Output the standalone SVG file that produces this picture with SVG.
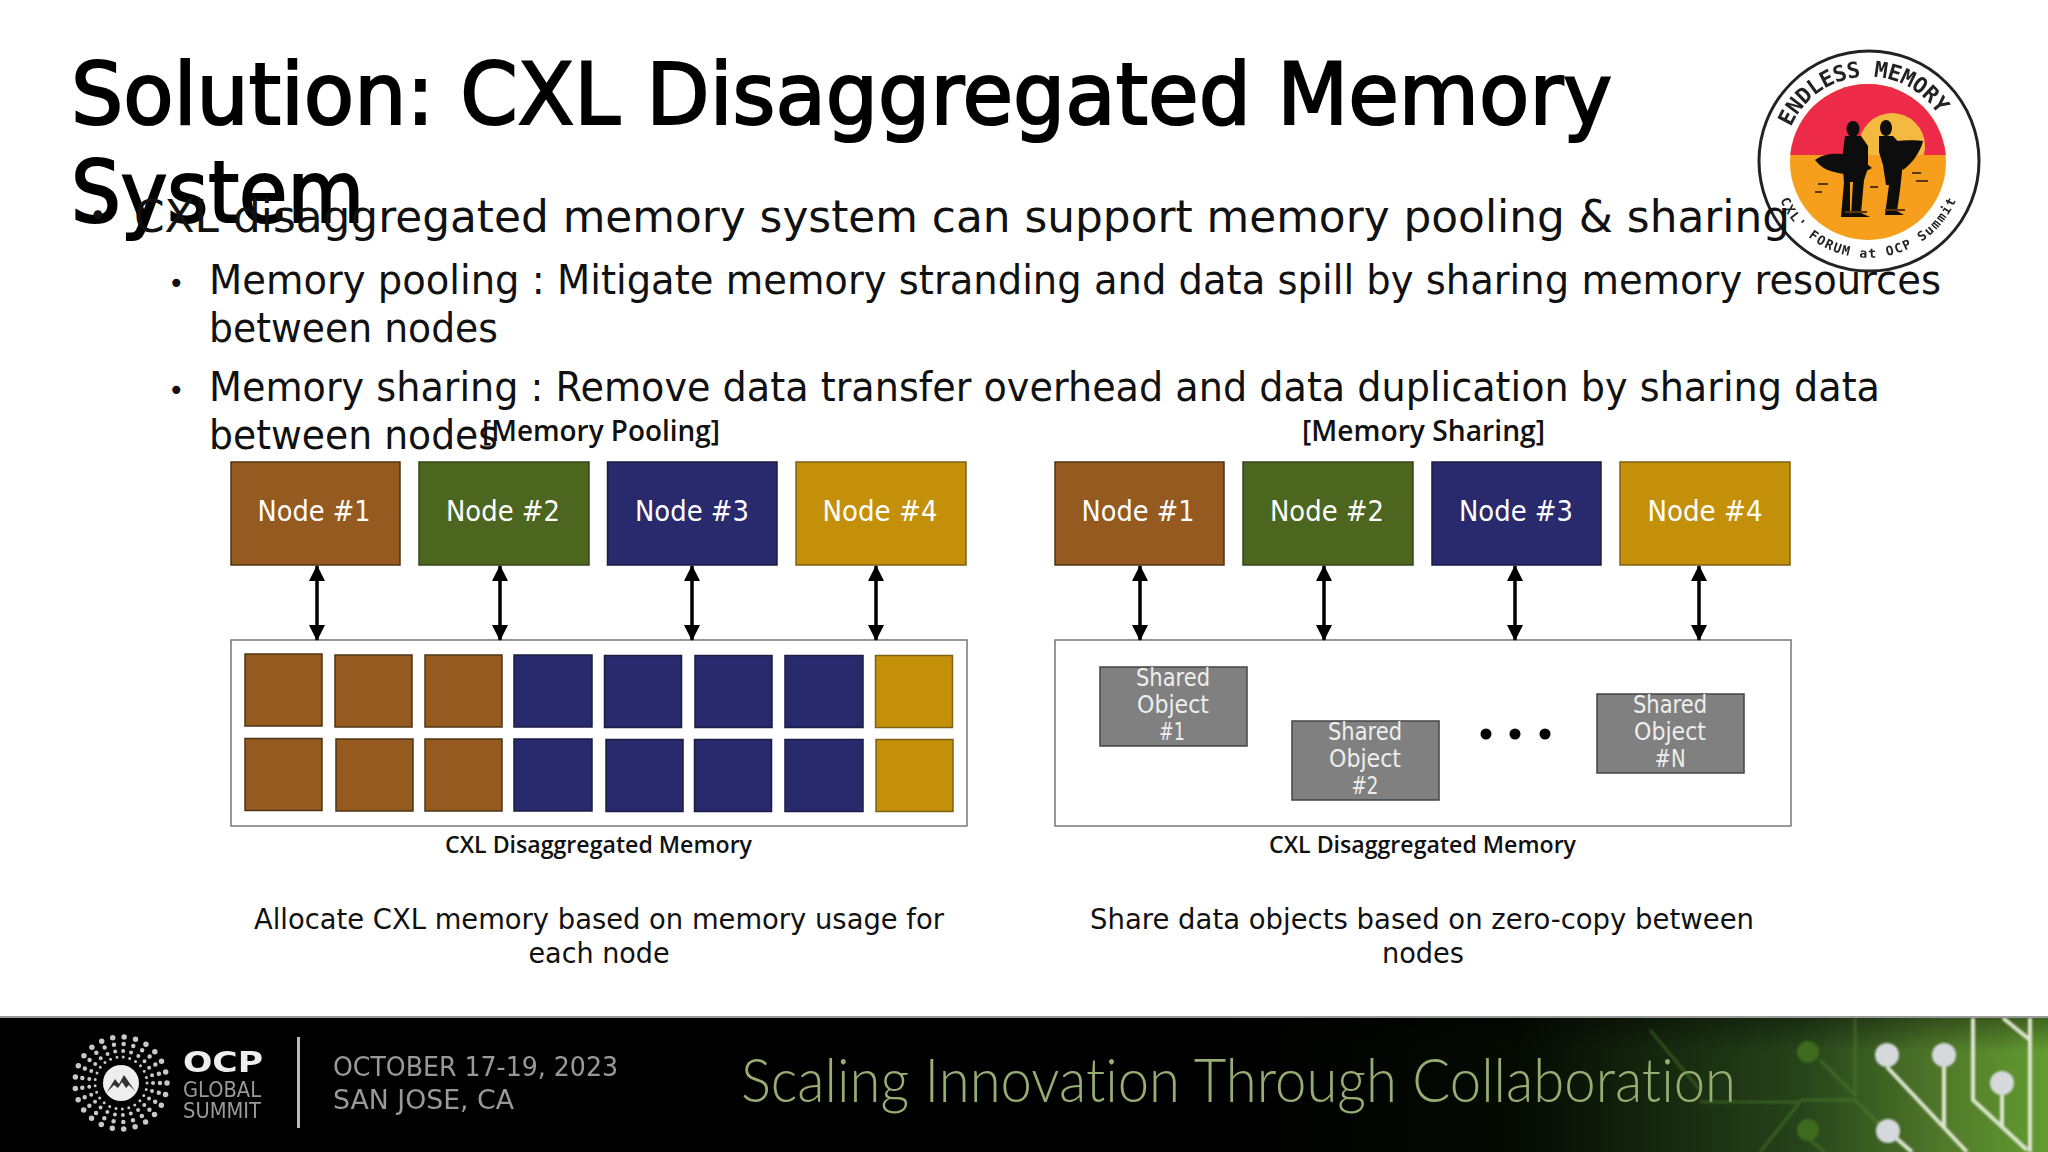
<svg xmlns="http://www.w3.org/2000/svg" width="2048" height="1152" viewBox="0 0 2048 1152">
<defs>
<style>
text{font-family:"DejaVu Sans","Liberation Sans",sans-serif}
.t{font-size:86px;fill:#000;stroke:#000;stroke-width:2.2}
.b1{font-size:45px;fill:#111}
.b2{font-size:41px;fill:#111}
.bu{font-size:28px;fill:#111}
.lab{font-size:29px;fill:#111;font-weight:600;font-family:"Open Sans","DejaVu Sans",sans-serif}
.cap{font-size:29px;fill:#111;text-anchor:middle}
.nt{font-size:29px;fill:#fff;text-anchor:middle}
.st{font-size:24px;fill:#eee;text-anchor:middle}
.br{fill:#945a1f;stroke:#4d3416;stroke-width:1.5}
.gr{fill:#4c661f;stroke:#33441a;stroke-width:1.5}
.bl{fill:#29296d;stroke:#1d1d44;stroke-width:1.5}
.go{fill:#c4900a;stroke:#7d6214;stroke-width:1.5}
.box{fill:#fff;stroke:#777;stroke-width:1.5}
.so{fill:#808080;stroke:#444;stroke-width:1.5}
.a{stroke:#000;stroke-width:3.5;fill:none;marker-start:url(#h);marker-end:url(#h)}
</style>
<marker id="h" viewBox="0 0 16 16" refX="15" refY="8" markerWidth="16" markerHeight="16" markerUnits="userSpaceOnUse" orient="auto-start-reverse"><path d="M0 0L16 8L0 16Z" fill="#000"/></marker>
<linearGradient id="fg" x1="0" x2="1" y1="0" y2="0"><stop offset="0" stop-color="#000"/><stop offset=".6" stop-color="#000"/><stop offset=".74" stop-color="#050a03"/><stop offset=".88" stop-color="#26441a"/><stop offset=".95" stop-color="#517a2a"/><stop offset="1" stop-color="#639c30"/></linearGradient>
<linearGradient id="fade" x1="0" x2="0" y1="0" y2="1"><stop offset="0" stop-color="#000" stop-opacity=".35"/><stop offset=".25" stop-color="#000" stop-opacity="0"/></linearGradient>
<filter id="s" x="-5%" y="-5%" width="110%" height="110%"><feGaussianBlur stdDeviation=".7"/></filter>
<filter id="s2" x="-5%" y="-5%" width="110%" height="110%"><feGaussianBlur stdDeviation="1.1"/></filter>
<clipPath id="top"><rect x="1780" y="70" width="180" height="85"/></clipPath>
<clipPath id="foot"><rect x="0" y="1018" width="2048" height="134"/></clipPath>
<path id="arcT" d="M1791 127A84 84 0 0 1 1945 127"/>
<path id="arcB" d="M1780 200A96 96 0 0 0 1957 198"/>
</defs>
<rect width="2048" height="1152" fill="#fff"/>
<g id="title"><text class="t" x="71" y="124" textLength="1541" lengthAdjust="spacingAndGlyphs">Solution: CXL Disaggregated Memory</text><text class="t" x="71" y="222" textLength="293" lengthAdjust="spacingAndGlyphs">System</text></g>
<g id="logo" filter="url(#s)">
<circle cx="1869" cy="161" r="110" fill="#fff" stroke="#222" stroke-width="3"/>
<circle cx="1868" cy="162" r="78" fill="#f59f1c"/>
<circle cx="1868" cy="162" r="78" fill="#ee2a4a" clip-path="url(#top)"/>
<circle cx="1892" cy="146" r="33" fill="#f4b93f" clip-path="url(#top)"/>
<g fill="#0d0a08">
<ellipse cx="1853" cy="129" rx="6.500" ry="8"/>
<path d="M1845 136L1861 136L1868 146L1868 168L1864 180L1861 213L1870 217H1851L1853 182H1850L1850 213L1857 217H1841L1844 182L1842 160Z"/>
<path d="M1815 160C1826 151 1852 150 1872 168C1860 175 1845 175 1834 172C1825 170 1819 165 1815 160Z"/>
<ellipse cx="1886" cy="128" rx="6" ry="8"/>
<path d="M1879 136L1893 136L1902 146L1902 172L1900 190L1897 211L1904 215H1885L1889 185H1886L1883 165L1879 152Z"/>
<path d="M1896 141C1906 140 1916 140 1923 141C1920 153 1912 163 1903 170L1897 165Z"/>
</g>
<path d="M1818 184h10M1815 192h7M1912 173h9M1916 181h12M1870 187h8M1845 212h22M1885 210h20" stroke="#5a3410" stroke-width="2" fill="none"/>
<g font-weight="700" fill="#222"><text style="font-family:'DejaVu Sans Mono',monospace" font-size="22" font-weight="700" letter-spacing="-.4"><textPath href="#arcT">ENDLESS MEMORY</textPath></text><text style="font-family:'DejaVu Sans Mono',monospace" font-size="13" font-weight="700" letter-spacing="1.500"><textPath href="#arcB">CXL' FORUM at OCP Summit</textPath></text></g>
</g>
<g id="body">
<text class="b1" x="89" y="226" style="font-size:30px">•</text>
<text class="b1" x="134" y="232" textLength="1656" lengthAdjust="spacingAndGlyphs">CXL disaggregated memory system can support memory pooling &amp; sharing</text>
<text class="bu" x="168" y="293">•</text><text class="b2" x="209" y="294" textLength="1732" lengthAdjust="spacingAndGlyphs">Memory pooling : Mitigate memory stranding and data spill by sharing memory resources</text>
<text class="b2" x="209" y="342" textLength="289" lengthAdjust="spacingAndGlyphs">between nodes</text>
<text class="bu" x="168" y="400">•</text><text class="b2" x="209" y="401" textLength="1671" lengthAdjust="spacingAndGlyphs">Memory sharing : Remove data transfer overhead and data duplication by sharing data</text>
<text class="b2" x="209" y="449" textLength="289" lengthAdjust="spacingAndGlyphs">between nodes</text>
</g>
<g id="pooling">
<text class="lab" x="482" y="441" textLength="238" lengthAdjust="spacingAndGlyphs">[Memory Pooling]</text>
<g id="p-node1"><rect class="br" x="231" y="462" width="169" height="103"/><text class="nt" x="314" y="521" textLength="113" lengthAdjust="spacingAndGlyphs">Node #1</text></g>
<g id="p-node2"><rect class="gr" x="419" y="462" width="170" height="103"/><text class="nt" x="503" y="521" textLength="114" lengthAdjust="spacingAndGlyphs">Node #2</text></g>
<g id="p-node3"><rect class="bl" x="607.500" y="462" width="169.500" height="103"/><text class="nt" x="692" y="521" textLength="114" lengthAdjust="spacingAndGlyphs">Node #3</text></g>
<g id="p-node4"><rect class="go" x="796" y="462" width="170" height="103"/><text class="nt" x="880" y="521" textLength="115" lengthAdjust="spacingAndGlyphs">Node #4</text></g>
<g id="p-mem"><rect class="box" x="231" y="640" width="736" height="186"/>
<rect class="br" x="245" y="654" width="77" height="72"/><rect class="br" x="335" y="655" width="77" height="72"/><rect class="br" x="425" y="655" width="77" height="72"/><rect class="bl" x="514" y="655" width="78" height="72"/><rect class="bl" x="604.500" y="655.500" width="77" height="72"/><rect class="bl" x="695" y="655.500" width="77" height="72"/><rect class="bl" x="785" y="655.500" width="78" height="72"/><rect class="go" x="875.500" y="655.500" width="77" height="72"/>
<rect class="br" x="245" y="738.500" width="77" height="72"/><rect class="br" x="336" y="739" width="77" height="72"/><rect class="br" x="425" y="739" width="77" height="72"/><rect class="bl" x="514" y="739" width="78" height="72"/><rect class="bl" x="606" y="739.500" width="77" height="72"/><rect class="bl" x="694.500" y="739.500" width="77" height="72"/><rect class="bl" x="785" y="739.500" width="78" height="72"/><rect class="go" x="876" y="739.500" width="77" height="72"/>
</g>
<text class="lab" x="445" y="853" textLength="307" lengthAdjust="spacingAndGlyphs" style="font-size:24px">CXL Disaggregated Memory</text>
<text class="cap" x="599" y="929" textLength="690" lengthAdjust="spacingAndGlyphs">Allocate CXL memory based on memory usage for</text>
<text class="cap" x="599" y="963" textLength="141" lengthAdjust="spacingAndGlyphs">each node</text>
</g>
<g id="sharing">
<text class="lab" x="1302" y="441" textLength="243" lengthAdjust="spacingAndGlyphs">[Memory Sharing]</text>
<g id="s-node1"><rect class="br" x="1055" y="462" width="169" height="103"/><text class="nt" x="1138" y="521" textLength="113" lengthAdjust="spacingAndGlyphs">Node #1</text></g>
<g id="s-node2"><rect class="gr" x="1243" y="462" width="170" height="103"/><text class="nt" x="1327" y="521" textLength="114" lengthAdjust="spacingAndGlyphs">Node #2</text></g>
<g id="s-node3"><rect class="bl" x="1432" y="462" width="169" height="103"/><text class="nt" x="1516" y="521" textLength="114" lengthAdjust="spacingAndGlyphs">Node #3</text></g>
<g id="s-node4"><rect class="go" x="1620" y="462" width="170" height="103"/><text class="nt" x="1705" y="521" textLength="115" lengthAdjust="spacingAndGlyphs">Node #4</text></g>
<g id="s-mem"><rect class="box" x="1055" y="640" width="736" height="186"/></g>
<g id="so1"><rect class="so" x="1100" y="667" width="147" height="79"/><text class="st" x="1173" y="686" textLength="74" lengthAdjust="spacingAndGlyphs">Shared</text><text class="st" x="1173" y="713" textLength="72" lengthAdjust="spacingAndGlyphs">Object</text><text class="st" x="1172" y="740" textLength="26" lengthAdjust="spacingAndGlyphs">#1</text></g>
<g id="so2"><rect class="so" x="1292" y="721" width="147" height="79"/><text class="st" x="1365" y="740" textLength="74" lengthAdjust="spacingAndGlyphs">Shared</text><text class="st" x="1365" y="767" textLength="72" lengthAdjust="spacingAndGlyphs">Object</text><text class="st" x="1365" y="794" textLength="27" lengthAdjust="spacingAndGlyphs">#2</text></g>
<g id="son"><rect class="so" x="1597" y="694" width="147" height="79"/><text class="st" x="1670" y="713" textLength="74" lengthAdjust="spacingAndGlyphs">Shared</text><text class="st" x="1670" y="740" textLength="72" lengthAdjust="spacingAndGlyphs">Object</text><text class="st" x="1670" y="767" textLength="31" lengthAdjust="spacingAndGlyphs">#N</text></g>
<g id="dots" fill="#000"><circle cx="1486" cy="734" r="5.500"/><circle cx="1515" cy="734" r="5.500"/><circle cx="1545" cy="734" r="5.500"/></g>
<text class="lab" x="1269" y="853" textLength="307" lengthAdjust="spacingAndGlyphs" style="font-size:24px">CXL Disaggregated Memory</text>
<text class="cap" x="1422" y="929" textLength="664" lengthAdjust="spacingAndGlyphs">Share data objects based on zero-copy between</text>
<text class="cap" x="1423" y="963" textLength="82" lengthAdjust="spacingAndGlyphs">nodes</text>
</g>
<g id="connectors">
<path class="a" d="M317 566V640"/><path class="a" d="M500 566V640"/><path class="a" d="M692 566V640"/><path class="a" d="M876 566V640"/>
<path class="a" d="M1140 566V640"/><path class="a" d="M1324 566V640"/><path class="a" d="M1515 566V640"/><path class="a" d="M1699 566V640"/>
</g>
<g id="footer">
<rect y="1016" width="2048" height="3" fill="#999" filter="url(#s)"/>
<rect y="1018" width="2048" height="134" fill="url(#fg)"/>
<rect y="1018" width="2048" height="134" fill="url(#fade)"/>
<g filter="url(#s)">
<g fill="none" stroke="#c8c8c8" stroke-linecap="round">
<circle cx="121" cy="1083" r="46" stroke-width="5.500" stroke-dasharray="0 11.560"/>
<circle cx="121" cy="1083" r="39" stroke-width="4.500" stroke-dasharray="0 9.800"/>
<circle cx="121" cy="1083" r="32" stroke-width="4" stroke-dasharray="0 8.040"/>
<circle cx="121" cy="1083" r="26" stroke-width="3" stroke-dasharray="0 6.530"/>
</g>
<circle cx="121" cy="1083" r="18" fill="#eee"/>
<path d="M107 1092l8-13 4 5 5-9 11 16-6-6-3 3-4-6-4 6-4-3z" fill="#333"/>
<text x="183" y="1072" font-size="28" font-weight="700" fill="#eee" textLength="80" lengthAdjust="spacingAndGlyphs">OCP</text>
<text x="183" y="1097" font-size="22" fill="#9a9a9a" textLength="78" lengthAdjust="spacingAndGlyphs">GLOBAL</text>
<text x="183" y="1118" font-size="22" fill="#9a9a9a" textLength="78" lengthAdjust="spacingAndGlyphs">SUMMIT</text>
<rect x="297" y="1037" width="3" height="91" fill="#bbb"/>
<text x="333" y="1076" font-size="27" fill="#999" textLength="285" lengthAdjust="spacingAndGlyphs">OCTOBER 17-19, 2023</text>
<text x="333" y="1109" font-size="27" fill="#999" textLength="181" lengthAdjust="spacingAndGlyphs">SAN JOSE, CA</text>
<text x="741" y="1102" font-size="62" font-weight="300" fill="#97ad72" textLength="995" lengthAdjust="spacingAndGlyphs" style="font-family:Lato,'Open Sans',sans-serif;font-variant-ligatures:none">Scaling Innovation Through Collaboration</text>
</g>
<g clip-path="url(#foot)" filter="url(#s2)">
<g fill="none" stroke="#5d8a33" stroke-opacity=".4" stroke-width="3">
<path d="M1820 1060L1855 1095V1018M1800 1100H1855L1880 1125M1700 1102H1800M1650 1030L1700 1090M1760 1152L1800 1102M1810 1140L1825 1152"/>
</g>
<g fill="#3e6a1e"><circle cx="1808" cy="1052" r="11"/><circle cx="1808" cy="1130" r="11"/></g>
<g fill="none" stroke="#dfe6d2" stroke-width="4">
<path d="M1887 1067L1967 1152"/><path d="M1944 1067V1127"/><path d="M1973 1018V1100L2027 1150"/><path d="M2030 1018V1152"/><path d="M2003 1018L2030 1040"/><path d="M2002 1095V1127"/><path d="M1888 1131L1912 1152"/>
</g>
<g fill="#d5d9dc"><circle cx="1887" cy="1055" r="12"/><circle cx="1944" cy="1055" r="12"/><circle cx="2002" cy="1083" r="12"/><circle cx="1888" cy="1131" r="12"/></g>
</g>
</g>
</svg>
